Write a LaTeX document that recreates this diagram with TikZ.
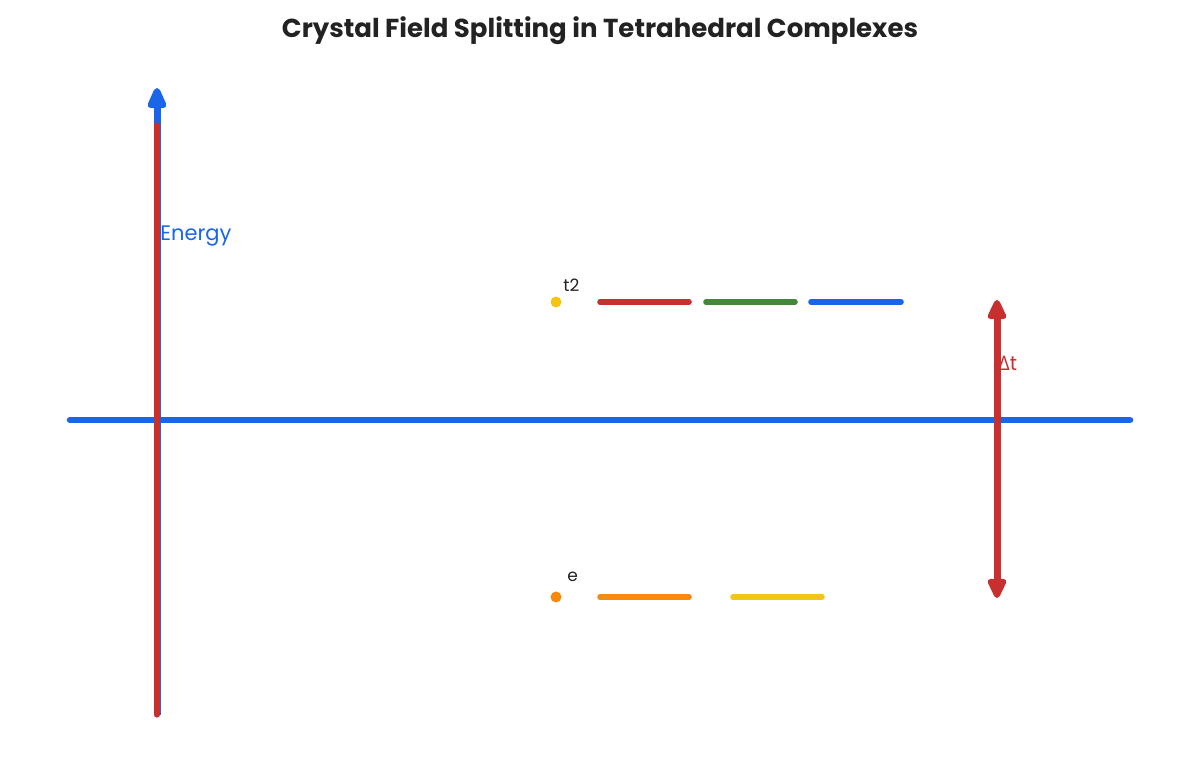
\documentclass[tikz,border=0pt]{standalone}
\usepackage{fontspec}
\setmainfont{Poppins}
\newfontfamily\greekfont{Open Sans}
\usepackage{tikz}
\usetikzlibrary{arrows.meta,positioning}
\definecolor{axisblue}{HTML}{1A66E8}
\definecolor{levelred}{HTML}{C8302F}
\definecolor{levelgreen}{HTML}{43873A}
\definecolor{levelorange}{HTML}{F68A0E}
\definecolor{levelyellow}{HTML}{F6C414}
\definecolor{textgrey}{HTML}{222222}
\tikzstyle{orbital}=[line width=2.8pt,line cap=round]
\tikzstyle{levelmark}=[circle,inner sep=0pt,minimum size=5.5pt]
\tikzstyle{levelname}=[inner sep=0pt,anchor=base west,text=textgrey,font=\fontsize{8.5}{10}\selectfont]
\tikzstyle{axisarrow}=[-{Triangle[length=13pt,width=10pt,line join=round]}]
\tikzstyle{splitarrow}=[{Triangle[length=12pt,width=10pt,line join=round]}-{Triangle[length=12pt,width=10pt,line join=round]}]

\begin{document}
\begin{tikzpicture}[
        x=0.5pt,
        y=-0.5pt
        ]
        \useasboundingbox (0,0) rectangle (1200,763);
        % title
        \node[font=\fontsize{13}{16}\selectfont\bfseries,text=textgrey,anchor=base] (title) at (600,38) {Crystal Field Splitting in Tetrahedral Complexes};
        % axes
        \coordinate (ebot) at (157,715);
        \coordinate (etop) at (157,88);
        \coordinate (hleft) at (70,420);
        \coordinate (hright) at (1130,420);
        \draw[axisblue,line width=3.3pt,line cap=round] (hleft) -- (hright);
        \draw[axisarrow,axisblue,line width=3.5pt] (ebot) -- (etop);
        \draw[levelred,line width=2.6pt,line cap=round] (ebot) -- (157,125);
        \node[anchor=base west,inner sep=0pt,text=axisblue,font=\fontsize{10.5}{12}\selectfont] (energy) at (160,241) {Energy};
        % t2 levels
        \node[levelmark,fill=levelyellow] (t2dot) at (556,302) {};
        \node[levelname] (t2lab) at (563,292) {t2};
        \coordinate (ta1) at (600,302); \coordinate (tb1) at (689,302);
        \coordinate (ta2) at (706,302); \coordinate (tb2) at (795,302);
        \coordinate (ta3) at (811,302); \coordinate (tb3) at (901,302);
        \draw[orbital,levelred] (ta1) -- (tb1);
        \draw[orbital,levelgreen] (ta2) -- (tb2);
        \draw[orbital,axisblue] (ta3) -- (tb3);
        % e levels
        \node[levelmark,fill=levelorange] (edot) at (556,597) {};
        \node[levelname] (elab) at (567,582) {e};
        \coordinate (ea1) at (600,597); \coordinate (eb1) at (689,597);
        \coordinate (ea2) at (733,597); \coordinate (eb2) at (822,597);
        \draw[orbital,levelorange] (ea1) -- (eb1);
        \draw[orbital,levelyellow] (ea2) -- (eb2);
        % splitting
        \coordinate (dtop) at (997,300);
        \coordinate (dbot) at (997,598);
        \draw[splitarrow,levelred,line width=3.5pt] (dbot) -- (dtop);
        \node[anchor=base west,inner sep=0pt,text=levelred,font=\fontsize{10}{12}\selectfont] (delta) at (998,371) {{\greekfont Δ}t};
    \end{tikzpicture}
\end{document}
